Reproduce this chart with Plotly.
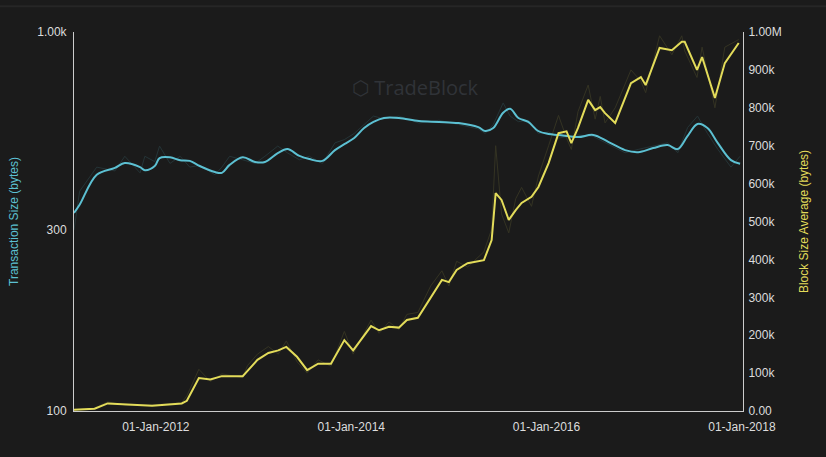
import plotly.graph_objects as go

tx_dates = ["2011-03-01","2011-03-22","2011-05-25","2011-08-01","2011-09-07","2011-11-03","2011-11-21","2011-12-28",
"2012-01-15","2012-02-23","2012-04-01","2012-05-07","2012-06-13","2012-08-09","2012-09-04","2012-10-03","2012-11-21",
"2013-01-06","2013-02-12","2013-04-01","2013-05-07","2013-06-21","2013-07-28","2013-09-15","2013-11-01","2013-12-06",
"2014-01-12","2014-02-18","2014-03-25","2014-05-03","2014-06-28","2014-09-11","2014-11-25","2015-02-06","2015-04-21",
"2015-05-17","2015-06-16","2015-07-23","2015-08-18","2015-09-18","2015-10-25","2015-12-01","2016-01-09","2016-02-15",
"2016-04-28","2016-06-24","2016-08-19","2016-10-21","2016-12-09","2017-02-03","2017-03-29","2017-05-06","2017-06-12",
"2017-07-19","2017-08-25","2017-10-03","2017-11-21","2017-12-25"]
tx_size = [333,350,420,438,451,440,432,443,465,467,459,457,443,427,425,446,467,454,454,479,491,471,462,457,488,506,
525,558,579,593,593,582,579,575,561,548,558,612,627,593,579,548,538,535,528,535,513,488,482,494,503,491,532,572,558,509,459,449]
tx_raw = [300,380,440,430,470,425,470,455,500,450,470,440,445,420,440,470,460,450,470,500,480,460,470,450,510,520,
540,570,600,590,600,575,585,570,555,540,570,650,600,580,585,540,545,525,535,530,505,480,490,500,510,480,560,600,540,490,440,470]

bs_dates = ["2011-03-01","2011-05-17","2011-07-05","2011-09-13","2011-12-18","2012-04-07","2012-04-26","2012-06-10",
"2012-07-23","2012-09-04","2012-11-21","2012-12-09","2013-01-15","2013-02-25","2013-04-03","2013-05-03","2013-06-12",
"2013-07-20","2013-08-30","2013-10-17","2013-12-06","2014-01-08","2014-03-16","2014-04-15","2014-05-22","2014-06-28",
"2014-07-28","2014-09-07","2014-10-25","2014-12-06","2015-01-01","2015-01-30","2015-03-12","2015-05-12","2015-06-10",
"2015-06-25","2015-07-17","2015-08-13","2015-09-08","2015-09-30","2015-11-06","2015-12-02","2016-01-09","2016-02-15",
"2016-03-16","2016-04-03","2016-04-28","2016-06-05","2016-07-01","2016-07-20","2016-08-07","2016-09-14","2016-11-12",
"2016-12-19","2017-01-06","2017-02-27","2017-04-14","2017-05-21","2017-06-01","2017-07-17","2017-08-05","2017-09-22",
"2017-10-29","2017-12-20"]
block_size = [3000,6000,20000,18000,14000,20000,27000,87000,83000,92000,92000,106000,135000,153000,160000,169000,143000,
108000,125000,125000,187000,160000,224000,213000,222000,220000,240000,246000,301000,346000,340000,372000,390000,398000,451000,
575000,557000,504000,530000,549000,565000,591000,654000,733000,738000,707000,747000,821000,794000,802000,786000,760000,865000,
881000,860000,958000,952000,974000,974000,900000,934000,826000,918000,971000]
block_raw = [2000,8000,24000,15000,16000,22000,40000,110000,78000,98000,88000,120000,150000,170000,150000,185000,130000,
100000,135000,118000,210000,150000,240000,205000,235000,215000,255000,260000,330000,370000,330000,395000,380000,420000,480000,
700000,520000,470000,560000,590000,540000,620000,700000,780000,720000,690000,790000,860000,770000,830000,760000,800000,900000,
870000,840000,990000,940000,990000,950000,880000,960000,800000,960000,980000]

CYAN = "#5cc0d2"
YEL = "#e3dc5a"
BG = "#1b1b1b"

fig = go.Figure()
fig.add_trace(go.Scatter(x=tx_dates, y=tx_raw, mode="lines", line=dict(color=CYAN, width=1), opacity=0.15, yaxis="y", showlegend=False, hoverinfo="skip"))
fig.add_trace(go.Scatter(x=bs_dates, y=block_raw, mode="lines", line=dict(color=YEL, width=1), opacity=0.12, yaxis="y2", showlegend=False, hoverinfo="skip"))
fig.add_trace(go.Scatter(x=tx_dates, y=tx_size, mode="lines", line=dict(color=CYAN, width=2, shape="spline"), yaxis="y", showlegend=False))
fig.add_trace(go.Scatter(x=bs_dates, y=block_size, mode="lines", line=dict(color=YEL, width=2), yaxis="y2", showlegend=False))

fig.update_layout(
    width=826, height=457, paper_bgcolor=BG, plot_bgcolor=BG,
    margin=dict(l=74, r=83, t=32, b=46),
    font=dict(family="Liberation Sans, Arial", size=12, color="#dddddd"),
    xaxis=dict(type="date", range=["2011-03-01", "2018-01-05"], showgrid=False, zeroline=False,
               tickvals=["2012-01-01","2014-01-01","2016-01-01","2018-01-01"],
               ticktext=["01-Jan-2012","01-Jan-2014","01-Jan-2016","01-Jan-2018"],
               showline=True, linecolor="#cccccc", linewidth=1, ticks="outside", ticklen=5, tickcolor=BG,
               tickfont=dict(size=12, color="#dddddd")),
    yaxis=dict(type="log", range=[2, 3], showgrid=False, zeroline=False, showline=True, linecolor="#cccccc",
               ticks="outside", ticklen=4, tickcolor=BG,
               tickvals=[100, 300, 1000], ticktext=["100", "300", "1.00k"],
               title=dict(text="Transaction Size (bytes)", font=dict(color=CYAN, size=12), standoff=16)),
    yaxis2=dict(overlaying="y", side="right", range=[0, 1000000], showgrid=False, zeroline=False, showline=True,
                linecolor="#cccccc", ticks="outside", ticklen=2, tickcolor=BG, tickvals=[i*100000 for i in range(11)],
                ticktext=["0.00","100k","200k","300k","400k","500k","600k","700k","800k","900k","1.00M"],
                title=dict(text="Block Size Average (bytes)", font=dict(color=YEL, size=12), standoff=18)),
    shapes=[dict(type="line", xref="paper", yref="paper", x0=-0.2, x1=1.3, y0=1.068, y1=1.068, line=dict(color="#262626", width=2))],
    annotations=[dict(text="⬡ TradeBlock", xref="paper", yref="paper", x=0.51, y=0.895, showarrow=False,
                      font=dict(size=20, color="#303338", family="Open Sans"))],
)
fig.write_html("out.html", config={"displayModeBar": False},
               post_script="document.body.style.margin='0';document.body.style.background='#1b1b1b';")
